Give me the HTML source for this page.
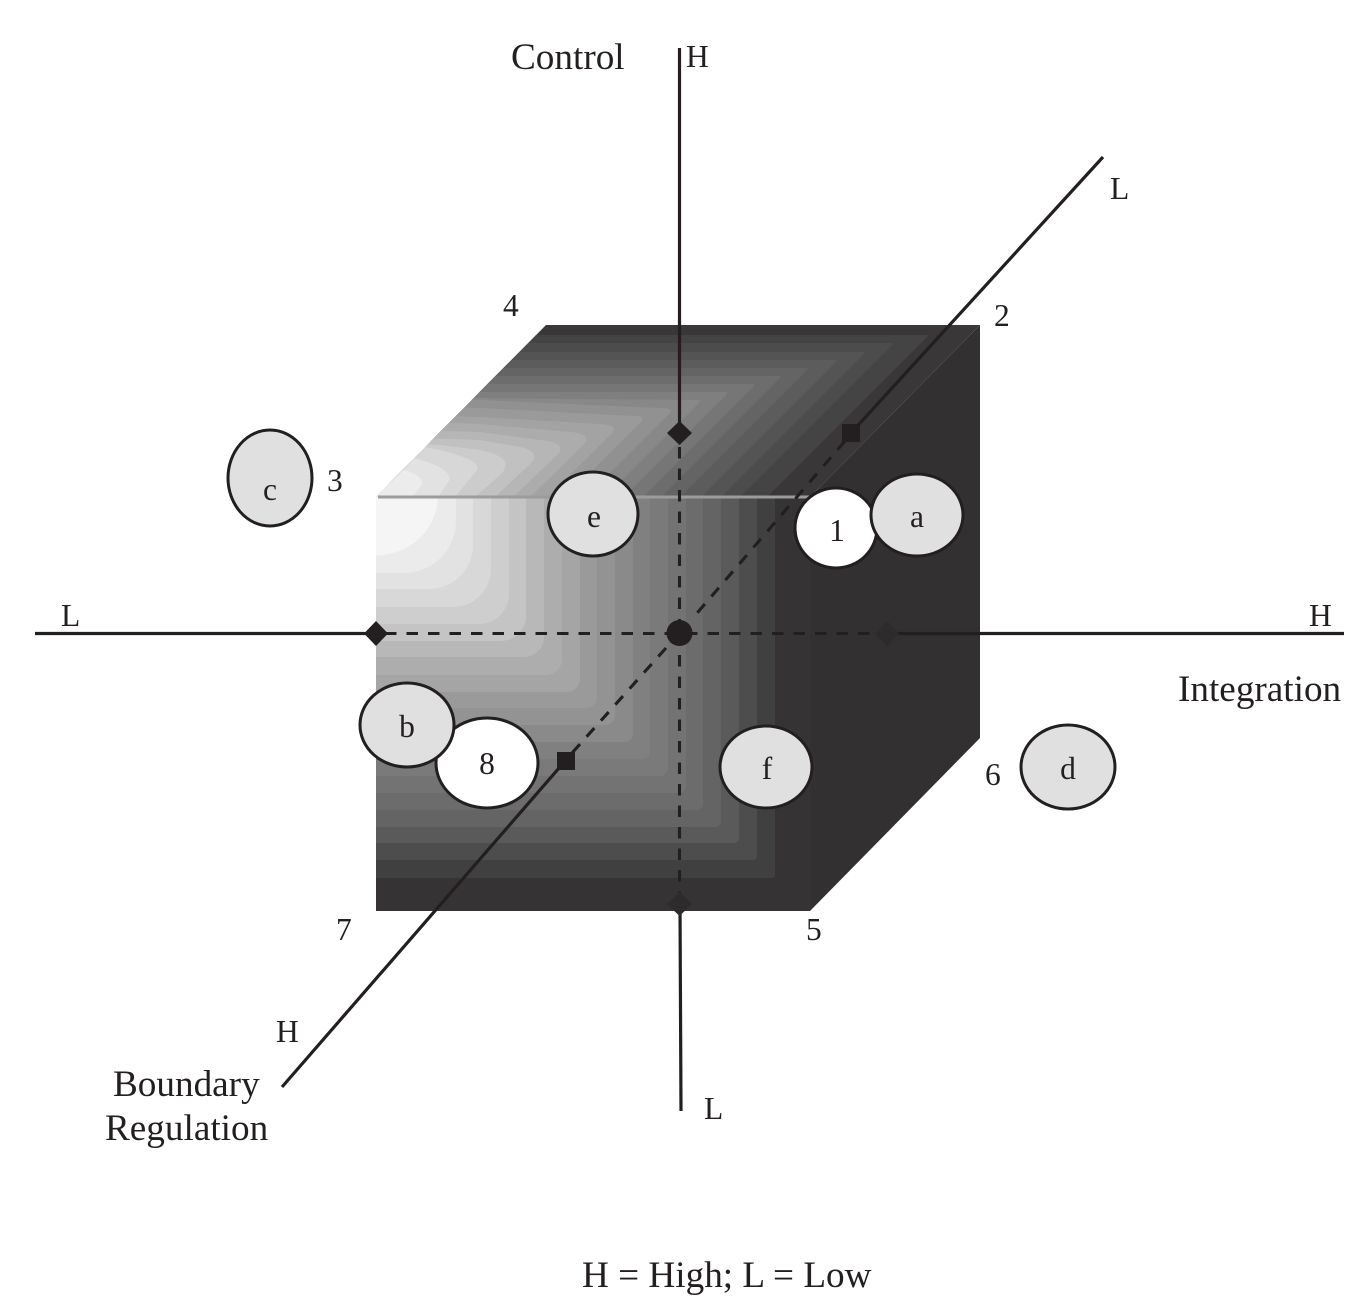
<!DOCTYPE html>
<html>
<head>
<meta charset="utf-8">
<style>
html,body{margin:0;padding:0;background:#fff;width:1371px;height:1310px;overflow:hidden}
svg{display:block}
text{font-family:"Liberation Serif",serif;fill:#231f20}
.s{font-size:31.5px}
.b{font-size:37.2px}
</style>
</head>
<body>
<svg width="1371" height="1310" viewBox="0 0 1371 1310" xmlns="http://www.w3.org/2000/svg">
<defs>
<clipPath id="cf"><rect x="376" y="497" width="434" height="414"/></clipPath>
<clipPath id="ct"><polygon points="376,497 546,325 980,325 810,497"/></clipPath>
</defs>

<polygon points="810,497 980,325 980,738 810,911" fill="#333031"/>

<g clip-path="url(#ct)">
<rect x="376" y="325" width="610" height="172" fill="#3a3738"/>
<path fill="#444444" d="M300 335 L927 335 Q929 335 927.6 336.4 L767 497 L300 497Z"/>
<path fill="#4c4c4c" d="M300 343 L891 343 Q894 343 891.9 345.1 L740 497 L300 497Z"/>
<path fill="#545454" d="M300 352 L863 352 Q866 352 863.9 354.1 L721 497 L300 497Z"/>
<path fill="#5c5c5c" d="M300 360 L835 360 Q838 360 835.9 362.1 L701 497 L300 497Z"/>
<path fill="#646464" d="M300 368 L806 368 Q809 368 806.9 370.1 L680 497 L300 497Z"/>
<path fill="#6d6d6d" d="M300 376 L778 376 Q782 376 779.2 378.8 L661 497 L300 497Z"/>
<path fill="#767676" d="M300 384 L752 384 Q756 384 753.2 386.8 L643 497 L300 497Z"/>
<path fill="#7f7f7f" d="M300 392 L725 392 Q729 392 726.2 394.8 L624 497 L300 497Z"/>
<path fill="#888888" d="M300 398 L480 398 L697 400 Q702 400 698.5 403.5 L605 497 L300 497Z"/>
<path fill="#919191" d="M300 394 L480 400 L660 408 Q675 408 669.4 413.6 L586 497 L300 497Z"/>
<path fill="#9a9a9a" d="M300 402 L480 408 L635 416 Q647 416 640 423 L566 497 L300 497Z"/>
<path fill="#a3a3a3" d="M300 411 L480 417 L600 424 Q621 425 611 434 L548 497 L300 497Z"/>
<path fill="#acacac" d="M300 418 L480 424 L570 432 Q595 434 582 446 L530 497 L300 497Z"/>
<path fill="#b6b6b6" d="M300 426 L480 432 L540 440 Q570 443 556 456 L513 497 L300 497Z"/>
<path fill="#c1c1c1" d="M300 434 L480 440 L515 446 Q545 451 528 466 L495 497 L300 497Z"/>
<path fill="#cccccc" d="M300 440 L440 445 L480 450 Q518 458 500 475 L475 497 L300 497Z"/>
<path fill="#d7d7d7" d="M300 430 L425 447 C450 452 482 460 477 470 L455 497 L300 497Z"/>
<path fill="#e2e2e2" d="M300 440 L413 458 C435 463 453 472 449 481 L438 497 L300 497Z"/>
<path fill="#ececec" d="M300 460 L403 470 C418 473 425 481 421 486 L412 497 L300 497Z"/>
</g>

<g clip-path="url(#cf)">
<rect x="376" y="497" width="434" height="414" fill="#363334"/>
<rect x="200" y="300" width="575" height="578" rx="3" fill="#404040"/>
<rect x="200" y="300" width="557" height="560" rx="4" fill="#4d4d4d"/>
<rect x="200" y="300" width="539" height="543" rx="5" fill="#5a5a5a"/>
<rect x="200" y="300" width="521" height="527" rx="6" fill="#646464"/>
<rect x="200" y="300" width="503" height="510" rx="6" fill="#6c6c6c"/>
<rect x="200" y="300" width="486" height="493" rx="7" fill="#737373"/>
<rect x="200" y="300" width="468" height="476" rx="8" fill="#7a7a7a"/>
<rect x="200" y="300" width="450" height="459" rx="8" fill="#808080"/>
<rect x="200" y="300" width="433" height="442" rx="9" fill="#8a8a8a"/>
<rect x="200" y="300" width="415" height="425" rx="10" fill="#939393"/>
<rect x="200" y="300" width="397" height="408" rx="11" fill="#9a9a9a"/>
<rect x="200" y="300" width="380" height="392" rx="13" fill="#a5a5a5"/>
<rect x="200" y="300" width="362" height="375" rx="16" fill="#adadad"/>
<rect x="200" y="300" width="344" height="357" rx="20" fill="#b8b8b8"/>
<rect x="200" y="300" width="326" height="341" rx="25" fill="#c4c4c4"/>
<rect x="200" y="300" width="309" height="324" rx="30" fill="#cecece"/>
<rect x="200" y="300" width="291" height="307" rx="38" fill="#d8d8d8"/>
<rect x="200" y="300" width="273" height="289" rx="44" fill="#e2e2e2"/>
<rect x="200" y="300" width="256" height="273" rx="52" fill="#ebebeb"/>
<rect x="200" y="300" width="238" height="255" rx="60" fill="#f5f5f5"/>
</g>

<line x1="378" y1="497" x2="815" y2="497" stroke="#9c9c9c" stroke-width="3"/>

<g stroke="#231f20" stroke-width="3.2" fill="none">
<line x1="679.5" y1="48" x2="679.5" y2="433"/>
<line x1="680" y1="905" x2="681" y2="1111"/>
<line x1="35" y1="633.5" x2="376" y2="633.5"/>
<line x1="887" y1="633.5" x2="1344" y2="633.5"/>
<line x1="1103" y1="157" x2="851" y2="433"/>
<line x1="566" y1="760" x2="282" y2="1087"/>
<g stroke-dasharray="11.5 10" stroke-width="3.1">
<line x1="679.5" y1="447" x2="679.5" y2="625"/>
<line x1="679.5" y1="655" x2="679.5" y2="900"/>
<line x1="385" y1="633.5" x2="880" y2="633.5"/>
<line x1="845" y1="441" x2="692" y2="619"/>
<line x1="666" y1="648" x2="572" y2="753"/>
</g>
</g>

<g fill="#231f20">
<polygon points="679.5,421 692,433 679.5,445 667,433"/>
<polygon points="376,621 388,633.5 376,646 364,633.5"/>
<polygon points="887,621 899,633.5 887,646 875,633.5" fill="#2e2b2c"/>
<polygon points="679.5,892 692,904 679.5,916 667,904" fill="#2e2b2c"/>
<rect x="842" y="424" width="18" height="18"/>
<rect x="557" y="752" width="18" height="18"/>
<circle cx="679.5" cy="633" r="13"/>
</g>

<g stroke="#231f20" stroke-width="3">
<ellipse cx="836" cy="528" rx="41" ry="40" fill="#fff"/>
<ellipse cx="917" cy="515" rx="46" ry="41" fill="#e0e0e0"/>
<ellipse cx="593" cy="514" rx="45" ry="42" fill="#e0e0e0"/>
<ellipse cx="270" cy="478" rx="42" ry="48" fill="#e0e0e0"/>
<ellipse cx="487" cy="763" rx="51" ry="45" fill="#fff"/>
<ellipse cx="407" cy="725" rx="47" ry="42" fill="#e0e0e0"/>
<ellipse cx="766" cy="767" rx="46" ry="41" fill="#e0e0e0"/>
<ellipse cx="1068" cy="767" rx="47" ry="42" fill="#e0e0e0"/>
</g>

<text class="b" x="511" y="69">Control</text>
<text class="s" x="686" y="67">H</text>
<text class="s" x="1110" y="199">L</text>
<text class="s" x="994" y="326">2</text>
<text class="s" x="503" y="316">4</text>
<text class="s" x="327" y="491">3</text>
<text class="s" x="61" y="626">L</text>
<text class="s" x="1309" y="626">H</text>
<text class="b" x="1178" y="701">Integration</text>
<text class="s" x="985" y="785">6</text>
<text class="s" x="336" y="940">7</text>
<text class="s" x="806" y="940">5</text>
<text class="s" x="276" y="1042">H</text>
<text class="b" x="113" y="1096">Boundary</text>
<text class="b" x="105" y="1140">Regulation</text>
<text class="s" x="704" y="1119">L</text>
<text class="b" x="582" y="1287">H = High; L = Low</text>

<g text-anchor="middle">
<text class="s" x="917" y="527">a</text>
<text class="s" x="837" y="541">1</text>
<text class="s" x="594" y="527">e</text>
<text class="s" x="270" y="500">c</text>
<text class="s" x="407" y="737">b</text>
<text class="s" x="487" y="774">8</text>
<text class="s" x="767" y="779">f</text>
<text class="s" x="1068" y="779">d</text>
</g>
</svg>
</body>
</html>
